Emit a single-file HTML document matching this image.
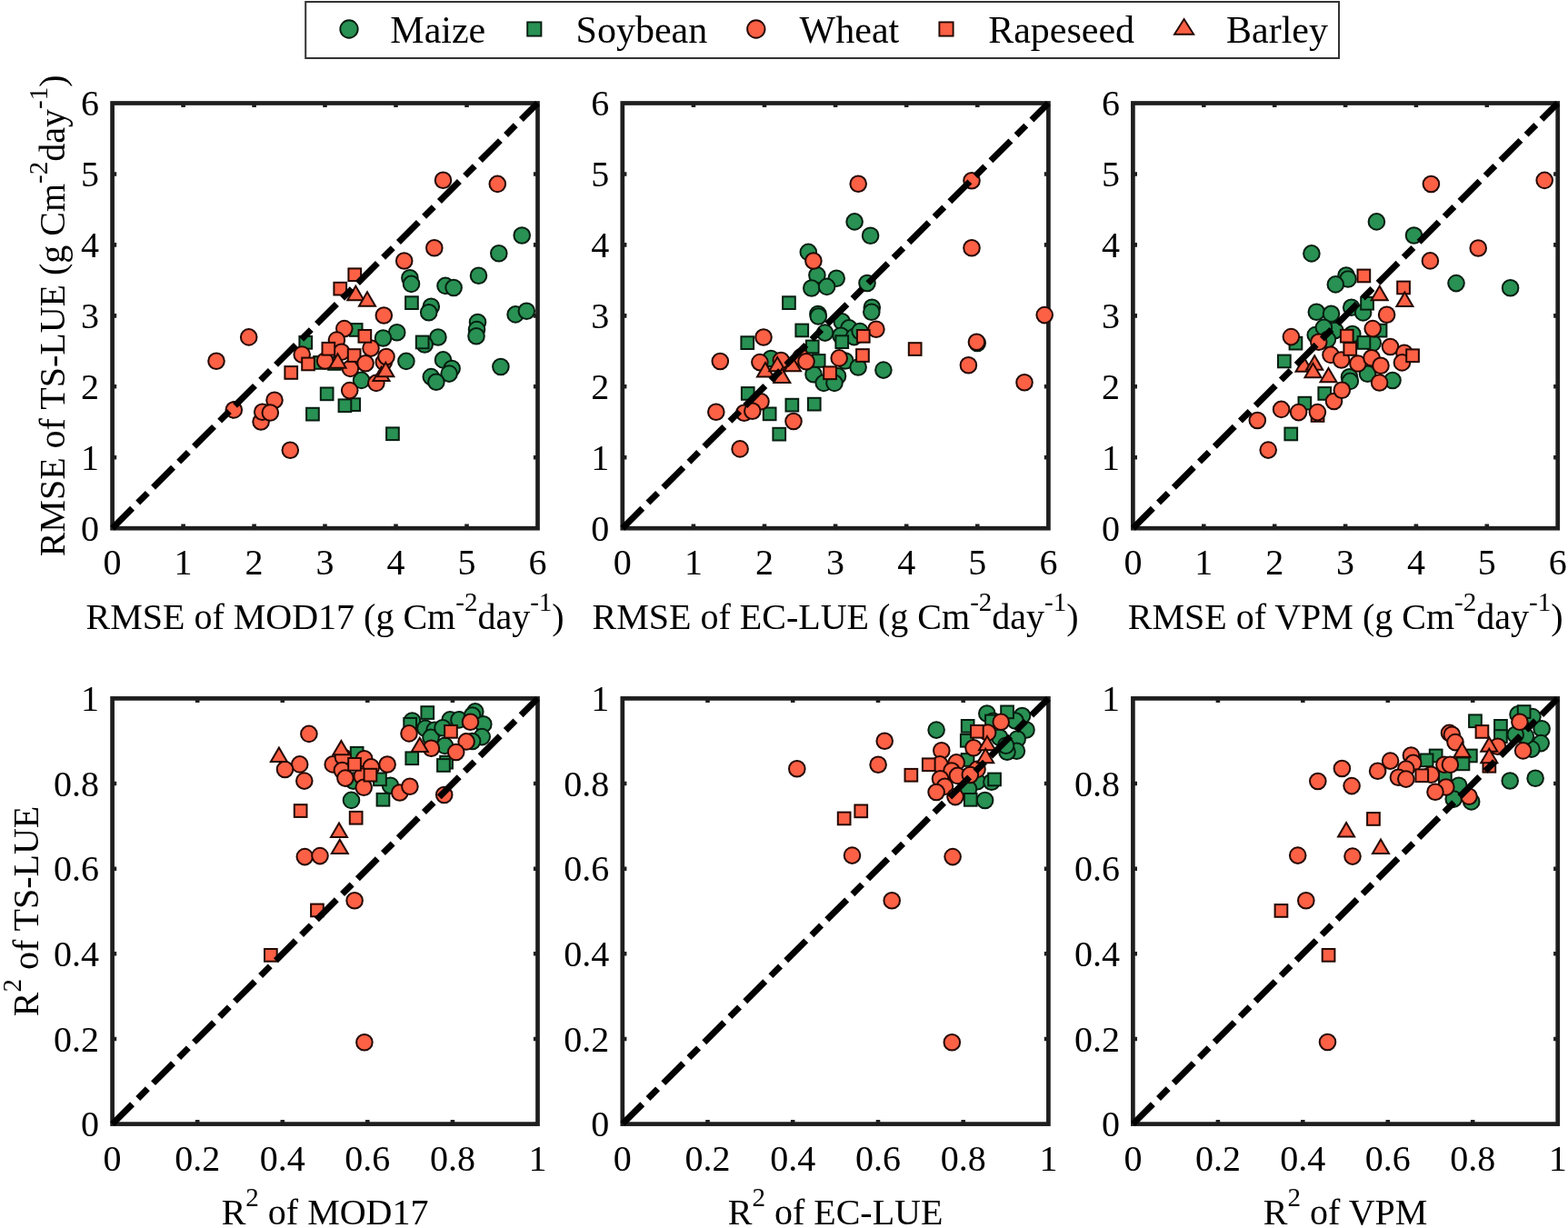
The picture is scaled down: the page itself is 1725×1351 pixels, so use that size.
<!DOCTYPE html>
<html><head><meta charset="utf-8"><title>Figure</title>
<style>html,body{margin:0;padding:0;background:#fff;width:1725px;height:1351px;overflow:hidden}svg{display:block}</style>
</head><body>
<svg width="1725" height="1351" viewBox="0 0 1725 1351" font-family="'Liberation Serif','Times New Roman',serif" font-size="40" fill="#000">
<rect width="1725" height="1351" fill="#fff"/>
<rect x="336.2" y="2" width="1136.8" height="62" fill="#fff" stroke="#333" stroke-width="2"/>
<g stroke-width="1.9">
<circle cx="384" cy="32" r="9.7" fill="#289153" stroke="#061d10"/>
<rect x="580.1999999999999" y="24.4" width="15.2" height="15.2" fill="#289153" stroke="#061d10"/>
<circle cx="831.8" cy="32" r="9.7" fill="#fc6045" stroke="#240800"/>
<rect x="1033.4" y="24.4" width="15.2" height="15.2" fill="#fc6045" stroke="#240800"/>
<path d="M1302.6 21.0L1313.1999999999998 37.8L1292.0 37.8Z" fill="#fc6045" stroke="#240800"/>
</g>
<text x="429.3" y="47.3" font-size="42">Maize</text>
<text x="633.6" y="47.3" font-size="42">Soybean</text>
<text x="879.6" y="47.3" font-size="42">Wheat</text>
<text x="1087.2" y="47.3" font-size="42">Rapeseed</text>
<text x="1349" y="47.3" font-size="42">Barley</text>
<rect x="123.6" y="113.5" width="467.9" height="467.7" fill="none" stroke="#1e1e1e" stroke-width="4.7"/>
<path d="M201.6 581.2v-4.6M201.6 113.5v4.6M123.6 503.3h4.6M591.5 503.3h-4.6M279.6 581.2v-4.6M279.6 113.5v4.6M123.6 425.3h4.6M591.5 425.3h-4.6M357.5 581.2v-4.6M357.5 113.5v4.6M123.6 347.4h4.6M591.5 347.4h-4.6M435.5 581.2v-4.6M435.5 113.5v4.6M123.6 269.4h4.6M591.5 269.4h-4.6M513.5 581.2v-4.6M513.5 113.5v4.6M123.6 191.5h4.6M591.5 191.5h-4.6" stroke="#1e1e1e" stroke-width="4.6" fill="none"/>
<g stroke="#111" stroke-width="2.0">
<circle cx="287.1" cy="464" r="8.8" fill="#fc6045" stroke="#240800"/>
<circle cx="574.2" cy="259" r="8.8" fill="#289153" stroke="#061d10"/>
<circle cx="548.8" cy="278.8" r="8.8" fill="#289153" stroke="#061d10"/>
<circle cx="526.5" cy="303.3" r="8.8" fill="#289153" stroke="#061d10"/>
<circle cx="450.9" cy="305.8" r="8.8" fill="#289153" stroke="#061d10"/>
<circle cx="452.5" cy="312.4" r="8.8" fill="#289153" stroke="#061d10"/>
<circle cx="490" cy="314.4" r="8.8" fill="#289153" stroke="#061d10"/>
<circle cx="499.1" cy="316.5" r="8.8" fill="#289153" stroke="#061d10"/>
<circle cx="474.3" cy="337.2" r="8.8" fill="#289153" stroke="#061d10"/>
<circle cx="471.7" cy="343.8" r="8.8" fill="#289153" stroke="#061d10"/>
<circle cx="567.1" cy="345.9" r="8.8" fill="#289153" stroke="#061d10"/>
<circle cx="579.3" cy="342.3" r="8.8" fill="#289153" stroke="#061d10"/>
<circle cx="525.5" cy="354.5" r="8.8" fill="#289153" stroke="#061d10"/>
<circle cx="524.5" cy="362.6" r="8.8" fill="#289153" stroke="#061d10"/>
<circle cx="524" cy="369.7" r="8.8" fill="#289153" stroke="#061d10"/>
<circle cx="436.7" cy="365.7" r="8.8" fill="#289153" stroke="#061d10"/>
<circle cx="421.5" cy="372" r="8.8" fill="#289153" stroke="#061d10"/>
<circle cx="481.9" cy="371" r="8.8" fill="#289153" stroke="#061d10"/>
<circle cx="467.2" cy="379" r="8.8" fill="#289153" stroke="#061d10"/>
<circle cx="446.9" cy="397.4" r="8.8" fill="#289153" stroke="#061d10"/>
<circle cx="487.5" cy="395.9" r="8.8" fill="#289153" stroke="#061d10"/>
<circle cx="497.1" cy="405.5" r="8.8" fill="#289153" stroke="#061d10"/>
<circle cx="494.1" cy="411.1" r="8.8" fill="#289153" stroke="#061d10"/>
<circle cx="474.3" cy="414.6" r="8.8" fill="#289153" stroke="#061d10"/>
<circle cx="479.9" cy="420.2" r="8.8" fill="#289153" stroke="#061d10"/>
<circle cx="550.9" cy="403.5" r="8.8" fill="#289153" stroke="#061d10"/>
<circle cx="397.6" cy="418.4" r="8.8" fill="#289153" stroke="#061d10"/>
<rect x="329.4" y="370" width="13.7" height="13.7" fill="#289153" stroke="#061d10"/>
<rect x="384.8" y="356.1" width="13.7" height="13.7" fill="#289153" stroke="#061d10"/>
<rect x="352.8" y="426.5" width="13.7" height="13.7" fill="#289153" stroke="#061d10"/>
<rect x="337.1" y="448.8" width="13.7" height="13.7" fill="#289153" stroke="#061d10"/>
<rect x="382.3" y="438.3" width="13.7" height="13.7" fill="#289153" stroke="#061d10"/>
<rect x="372.6" y="439.4" width="13.7" height="13.7" fill="#289153" stroke="#061d10"/>
<rect x="425.1" y="470.4" width="13.7" height="13.7" fill="#289153" stroke="#061d10"/>
<rect x="446.1" y="326.3" width="13.7" height="13.7" fill="#289153" stroke="#061d10"/>
<rect x="457.8" y="369.6" width="13.7" height="13.7" fill="#289153" stroke="#061d10"/>
<rect x="345.1" y="392.1" width="13.7" height="13.7" fill="#289153" stroke="#061d10"/>
<rect x="361.1" y="393.1" width="13.7" height="13.7" fill="#289153" stroke="#061d10"/>
<circle cx="238" cy="397.3" r="8.8" fill="#fc6045" stroke="#240800"/>
<circle cx="273.7" cy="370.9" r="8.8" fill="#fc6045" stroke="#240800"/>
<circle cx="257.3" cy="450.9" r="8.8" fill="#fc6045" stroke="#240800"/>
<circle cx="302" cy="440.3" r="8.8" fill="#fc6045" stroke="#240800"/>
<circle cx="288.7" cy="453.3" r="8.8" fill="#fc6045" stroke="#240800"/>
<circle cx="297.3" cy="454" r="8.8" fill="#fc6045" stroke="#240800"/>
<circle cx="319.3" cy="495.3" r="8.8" fill="#fc6045" stroke="#240800"/>
<circle cx="332.2" cy="390.1" r="8.8" fill="#fc6045" stroke="#240800"/>
<circle cx="378.8" cy="361.6" r="8.8" fill="#fc6045" stroke="#240800"/>
<circle cx="370.4" cy="374.1" r="8.8" fill="#fc6045" stroke="#240800"/>
<circle cx="375.7" cy="387.3" r="8.8" fill="#fc6045" stroke="#240800"/>
<circle cx="357.6" cy="397" r="8.8" fill="#fc6045" stroke="#240800"/>
<circle cx="385.4" cy="405.4" r="8.8" fill="#fc6045" stroke="#240800"/>
<circle cx="408" cy="383.1" r="8.8" fill="#fc6045" stroke="#240800"/>
<circle cx="422.3" cy="347" r="8.8" fill="#fc6045" stroke="#240800"/>
<circle cx="422.3" cy="398.4" r="8.8" fill="#fc6045" stroke="#240800"/>
<circle cx="425" cy="392.5" r="8.8" fill="#fc6045" stroke="#240800"/>
<circle cx="413.9" cy="421.4" r="8.8" fill="#fc6045" stroke="#240800"/>
<circle cx="384.7" cy="429.6" r="8.8" fill="#fc6045" stroke="#240800"/>
<circle cx="444.7" cy="287" r="8.8" fill="#fc6045" stroke="#240800"/>
<circle cx="477.8" cy="272.7" r="8.8" fill="#fc6045" stroke="#240800"/>
<circle cx="487.5" cy="198.3" r="8.8" fill="#fc6045" stroke="#240800"/>
<circle cx="547.3" cy="202.4" r="8.8" fill="#fc6045" stroke="#240800"/>
<rect x="313.4" y="403.1" width="13.7" height="13.7" fill="#fc6045" stroke="#240800"/>
<rect x="332.2" y="393.6" width="13.7" height="13.7" fill="#fc6045" stroke="#240800"/>
<rect x="394.5" y="363" width="13.7" height="13.7" fill="#fc6045" stroke="#240800"/>
<rect x="354.5" y="376.9" width="13.7" height="13.7" fill="#fc6045" stroke="#240800"/>
<rect x="383.4" y="295.4" width="13.7" height="13.7" fill="#fc6045" stroke="#240800"/>
<rect x="367.4" y="310.8" width="13.7" height="13.7" fill="#fc6045" stroke="#240800"/>
<rect x="382.8" y="384.2" width="13.7" height="13.7" fill="#fc6045" stroke="#240800"/>
<path d="M371.5 389.3L380.5 404.7L362.5 404.7Z" fill="#fc6045" stroke="#240800"/>
<path d="M419.5 403.7L428.5 419.1L410.5 419.1Z" fill="#fc6045" stroke="#240800"/>
<path d="M424.3 398.8L433.3 414.2L415.3 414.2Z" fill="#fc6045" stroke="#240800"/>
<path d="M391.3 314.8L400.3 330.2L382.3 330.2Z" fill="#fc6045" stroke="#240800"/>
<path d="M404 321.3L413 336.7L395 336.7Z" fill="#fc6045" stroke="#240800"/>
<circle cx="402.1" cy="399.8" r="8.8" fill="#fc6045" stroke="#240800"/>
</g>
<line x1="123.6" y1="581.2" x2="591.5" y2="113.5" stroke="#000" stroke-width="7" stroke-dasharray="31 8.8 15 8.8"/>
<text x="123.6" y="632.4" text-anchor="middle">0</text>
<text x="109.1" y="594.7" text-anchor="end">0</text>
<text x="201.6" y="632.4" text-anchor="middle">1</text>
<text x="109.1" y="516.8" text-anchor="end">1</text>
<text x="279.6" y="632.4" text-anchor="middle">2</text>
<text x="109.1" y="438.8" text-anchor="end">2</text>
<text x="357.5" y="632.4" text-anchor="middle">3</text>
<text x="109.1" y="360.9" text-anchor="end">3</text>
<text x="435.5" y="632.4" text-anchor="middle">4</text>
<text x="109.1" y="282.9" text-anchor="end">4</text>
<text x="513.5" y="632.4" text-anchor="middle">5</text>
<text x="109.1" y="205" text-anchor="end">5</text>
<text x="591.5" y="632.4" text-anchor="middle">6</text>
<text x="109.1" y="127" text-anchor="end">6</text>
<rect x="684.8" y="113.5" width="468.6" height="467.7" fill="none" stroke="#1e1e1e" stroke-width="4.7"/>
<path d="M762.9 581.2v-4.6M762.9 113.5v4.6M684.8 503.3h4.6M1153.4 503.3h-4.6M841 581.2v-4.6M841 113.5v4.6M684.8 425.3h4.6M1153.4 425.3h-4.6M919.1 581.2v-4.6M919.1 113.5v4.6M684.8 347.4h4.6M1153.4 347.4h-4.6M997.2 581.2v-4.6M997.2 113.5v4.6M684.8 269.4h4.6M1153.4 269.4h-4.6M1075.3 581.2v-4.6M1075.3 113.5v4.6M684.8 191.5h4.6M1153.4 191.5h-4.6" stroke="#1e1e1e" stroke-width="4.6" fill="none"/>
<g stroke="#111" stroke-width="2.0">
<circle cx="848.1" cy="394.5" r="8.8" fill="#289153" stroke="#061d10"/>
<circle cx="899.9" cy="345.5" r="8.8" fill="#289153" stroke="#061d10"/>
<circle cx="900.3" cy="348" r="8.8" fill="#289153" stroke="#061d10"/>
<circle cx="907.6" cy="366.1" r="8.8" fill="#289153" stroke="#061d10"/>
<circle cx="926.3" cy="353.9" r="8.8" fill="#289153" stroke="#061d10"/>
<circle cx="934" cy="360.9" r="8.8" fill="#289153" stroke="#061d10"/>
<circle cx="925" cy="369.2" r="8.8" fill="#289153" stroke="#061d10"/>
<circle cx="939.6" cy="370.6" r="8.8" fill="#289153" stroke="#061d10"/>
<circle cx="946.1" cy="364.6" r="8.8" fill="#289153" stroke="#061d10"/>
<circle cx="929.8" cy="397" r="8.8" fill="#289153" stroke="#061d10"/>
<circle cx="944.1" cy="404" r="8.8" fill="#289153" stroke="#061d10"/>
<circle cx="971.9" cy="407.1" r="8.8" fill="#289153" stroke="#061d10"/>
<circle cx="895" cy="411.7" r="8.8" fill="#289153" stroke="#061d10"/>
<circle cx="921.5" cy="413.7" r="8.8" fill="#289153" stroke="#061d10"/>
<circle cx="906.2" cy="421.4" r="8.8" fill="#289153" stroke="#061d10"/>
<circle cx="918" cy="421.4" r="8.8" fill="#289153" stroke="#061d10"/>
<circle cx="959.3" cy="338.3" r="8.8" fill="#289153" stroke="#061d10"/>
<circle cx="958.8" cy="343.3" r="8.8" fill="#289153" stroke="#061d10"/>
<circle cx="889.3" cy="277.4" r="8.8" fill="#289153" stroke="#061d10"/>
<circle cx="898.9" cy="302.8" r="8.8" fill="#289153" stroke="#061d10"/>
<circle cx="920.2" cy="306.3" r="8.8" fill="#289153" stroke="#061d10"/>
<circle cx="892.8" cy="317" r="8.8" fill="#289153" stroke="#061d10"/>
<circle cx="909.6" cy="315.4" r="8.8" fill="#289153" stroke="#061d10"/>
<circle cx="954" cy="311.5" r="8.8" fill="#289153" stroke="#061d10"/>
<circle cx="957.6" cy="259.3" r="8.8" fill="#289153" stroke="#061d10"/>
<circle cx="940.1" cy="243.9" r="8.8" fill="#289153" stroke="#061d10"/>
<circle cx="1075.2" cy="377.5" r="8.8" fill="#289153" stroke="#061d10"/>
<rect x="815.4" y="370.3" width="13.7" height="13.7" fill="#289153" stroke="#061d10"/>
<rect x="875.4" y="356.6" width="13.7" height="13.7" fill="#289153" stroke="#061d10"/>
<rect x="886.9" y="374.6" width="13.7" height="13.7" fill="#289153" stroke="#061d10"/>
<rect x="893.8" y="390.1" width="13.7" height="13.7" fill="#289153" stroke="#061d10"/>
<rect x="919.4" y="369.3" width="13.7" height="13.7" fill="#289153" stroke="#061d10"/>
<rect x="815.9" y="426.1" width="13.7" height="13.7" fill="#289153" stroke="#061d10"/>
<rect x="839.8" y="448.5" width="13.7" height="13.7" fill="#289153" stroke="#061d10"/>
<rect x="864.5" y="438.8" width="13.7" height="13.7" fill="#289153" stroke="#061d10"/>
<rect x="888.9" y="437.8" width="13.7" height="13.7" fill="#289153" stroke="#061d10"/>
<rect x="850.4" y="470.8" width="13.7" height="13.7" fill="#289153" stroke="#061d10"/>
<rect x="861.1" y="326.3" width="13.7" height="13.7" fill="#289153" stroke="#061d10"/>
<circle cx="792.3" cy="397.5" r="8.8" fill="#fc6045" stroke="#240800"/>
<circle cx="840" cy="371" r="8.8" fill="#fc6045" stroke="#240800"/>
<circle cx="835.9" cy="398.6" r="8.8" fill="#fc6045" stroke="#240800"/>
<circle cx="859.3" cy="396.5" r="8.8" fill="#fc6045" stroke="#240800"/>
<circle cx="881.1" cy="392.9" r="8.8" fill="#fc6045" stroke="#240800"/>
<circle cx="887" cy="397.7" r="8.8" fill="#fc6045" stroke="#240800"/>
<circle cx="837" cy="441.7" r="8.8" fill="#fc6045" stroke="#240800"/>
<circle cx="818.7" cy="454.3" r="8.8" fill="#fc6045" stroke="#240800"/>
<circle cx="827.8" cy="452.3" r="8.8" fill="#fc6045" stroke="#240800"/>
<circle cx="787.8" cy="453.3" r="8.8" fill="#fc6045" stroke="#240800"/>
<circle cx="873" cy="463.5" r="8.8" fill="#fc6045" stroke="#240800"/>
<circle cx="814.1" cy="493.9" r="8.8" fill="#fc6045" stroke="#240800"/>
<circle cx="923.2" cy="393.9" r="8.8" fill="#fc6045" stroke="#240800"/>
<circle cx="894.9" cy="287" r="8.8" fill="#fc6045" stroke="#240800"/>
<circle cx="944.2" cy="202.3" r="8.8" fill="#fc6045" stroke="#240800"/>
<circle cx="1069" cy="198.8" r="8.8" fill="#fc6045" stroke="#240800"/>
<circle cx="1069" cy="272.8" r="8.8" fill="#fc6045" stroke="#240800"/>
<circle cx="963.9" cy="362.3" r="8.8" fill="#fc6045" stroke="#240800"/>
<circle cx="1074.4" cy="376.2" r="8.8" fill="#fc6045" stroke="#240800"/>
<circle cx="1065.4" cy="401.8" r="8.8" fill="#fc6045" stroke="#240800"/>
<circle cx="1149.2" cy="346.6" r="8.8" fill="#fc6045" stroke="#240800"/>
<circle cx="1127" cy="420.7" r="8.8" fill="#fc6045" stroke="#240800"/>
<rect x="942.9" y="363" width="13.7" height="13.7" fill="#fc6045" stroke="#240800"/>
<rect x="942.1" y="384.2" width="13.7" height="13.7" fill="#fc6045" stroke="#240800"/>
<rect x="906.2" y="403.4" width="13.7" height="13.7" fill="#fc6045" stroke="#240800"/>
<rect x="999.8" y="377.2" width="13.7" height="13.7" fill="#fc6045" stroke="#240800"/>
<path d="M842 399L851 414.4L833 414.4Z" fill="#fc6045" stroke="#240800"/>
<path d="M855.2 392.9L864.2 408.3L846.2 408.3Z" fill="#fc6045" stroke="#240800"/>
<path d="M860.3 405.6L869.3 421L851.3 421Z" fill="#fc6045" stroke="#240800"/>
<path d="M872 392.9L881 408.3L863 408.3Z" fill="#fc6045" stroke="#240800"/>
</g>
<line x1="684.8" y1="581.2" x2="1153.4" y2="113.5" stroke="#000" stroke-width="7" stroke-dasharray="31 8.8 15 8.8"/>
<text x="684.8" y="632.4" text-anchor="middle">0</text>
<text x="670.3" y="594.7" text-anchor="end">0</text>
<text x="762.9" y="632.4" text-anchor="middle">1</text>
<text x="670.3" y="516.8" text-anchor="end">1</text>
<text x="841" y="632.4" text-anchor="middle">2</text>
<text x="670.3" y="438.8" text-anchor="end">2</text>
<text x="919.1" y="632.4" text-anchor="middle">3</text>
<text x="670.3" y="360.9" text-anchor="end">3</text>
<text x="997.2" y="632.4" text-anchor="middle">4</text>
<text x="670.3" y="282.9" text-anchor="end">4</text>
<text x="1075.3" y="632.4" text-anchor="middle">5</text>
<text x="670.3" y="205" text-anchor="end">5</text>
<text x="1153.4" y="632.4" text-anchor="middle">6</text>
<text x="670.3" y="127" text-anchor="end">6</text>
<rect x="1246.4" y="113.5" width="467.3" height="467.7" fill="none" stroke="#1e1e1e" stroke-width="4.7"/>
<path d="M1324.3 581.2v-4.6M1324.3 113.5v4.6M1246.4 503.3h4.6M1713.7 503.3h-4.6M1402.2 581.2v-4.6M1402.2 113.5v4.6M1246.4 425.3h4.6M1713.7 425.3h-4.6M1480.1 581.2v-4.6M1480.1 113.5v4.6M1246.4 347.4h4.6M1713.7 347.4h-4.6M1557.9 581.2v-4.6M1557.9 113.5v4.6M1246.4 269.4h4.6M1713.7 269.4h-4.6M1635.8 581.2v-4.6M1635.8 113.5v4.6M1246.4 191.5h4.6M1713.7 191.5h-4.6" stroke="#1e1e1e" stroke-width="4.6" fill="none"/>
<g stroke="#111" stroke-width="2.0">
<rect x="1442.7" y="450.1" width="13.7" height="13.7" fill="#fc6045" stroke="#240800"/>
<circle cx="1448.3" cy="343.2" r="8.8" fill="#289153" stroke="#061d10"/>
<circle cx="1464.5" cy="345.2" r="8.8" fill="#289153" stroke="#061d10"/>
<circle cx="1447.2" cy="368.6" r="8.8" fill="#289153" stroke="#061d10"/>
<circle cx="1468.6" cy="363.5" r="8.8" fill="#289153" stroke="#061d10"/>
<circle cx="1456.4" cy="360.4" r="8.8" fill="#289153" stroke="#061d10"/>
<circle cx="1460.4" cy="373.6" r="8.8" fill="#289153" stroke="#061d10"/>
<circle cx="1486.7" cy="338.3" r="8.8" fill="#289153" stroke="#061d10"/>
<circle cx="1499.6" cy="343.9" r="8.8" fill="#289153" stroke="#061d10"/>
<circle cx="1481" cy="303" r="8.8" fill="#289153" stroke="#061d10"/>
<circle cx="1483" cy="307" r="8.8" fill="#289153" stroke="#061d10"/>
<circle cx="1469.3" cy="312.9" r="8.8" fill="#289153" stroke="#061d10"/>
<circle cx="1487.8" cy="367.5" r="8.8" fill="#289153" stroke="#061d10"/>
<circle cx="1510.2" cy="377.4" r="8.8" fill="#289153" stroke="#061d10"/>
<circle cx="1504.5" cy="411.2" r="8.8" fill="#289153" stroke="#061d10"/>
<circle cx="1484.5" cy="414.7" r="8.8" fill="#289153" stroke="#061d10"/>
<circle cx="1485.3" cy="419.4" r="8.8" fill="#289153" stroke="#061d10"/>
<circle cx="1532" cy="418.5" r="8.8" fill="#289153" stroke="#061d10"/>
<circle cx="1442.9" cy="278.9" r="8.8" fill="#289153" stroke="#061d10"/>
<circle cx="1514.4" cy="243.9" r="8.8" fill="#289153" stroke="#061d10"/>
<circle cx="1555.5" cy="259" r="8.8" fill="#289153" stroke="#061d10"/>
<circle cx="1602" cy="311.6" r="8.8" fill="#289153" stroke="#061d10"/>
<circle cx="1661.6" cy="316.8" r="8.8" fill="#289153" stroke="#061d10"/>
<rect x="1418.6" y="370.8" width="13.7" height="13.7" fill="#289153" stroke="#061d10"/>
<rect x="1406" y="390.6" width="13.7" height="13.7" fill="#289153" stroke="#061d10"/>
<rect x="1428.5" y="436.8" width="13.7" height="13.7" fill="#289153" stroke="#061d10"/>
<rect x="1450.4" y="426.1" width="13.7" height="13.7" fill="#289153" stroke="#061d10"/>
<rect x="1413.4" y="470.6" width="13.7" height="13.7" fill="#289153" stroke="#061d10"/>
<rect x="1497.2" y="326.9" width="13.7" height="13.7" fill="#289153" stroke="#061d10"/>
<rect x="1511.7" y="356.8" width="13.7" height="13.7" fill="#289153" stroke="#061d10"/>
<rect x="1493.6" y="370.1" width="13.7" height="13.7" fill="#289153" stroke="#061d10"/>
<circle cx="1420.4" cy="370.6" r="8.8" fill="#fc6045" stroke="#240800"/>
<circle cx="1383.3" cy="462.5" r="8.8" fill="#fc6045" stroke="#240800"/>
<circle cx="1409.6" cy="450.4" r="8.8" fill="#fc6045" stroke="#240800"/>
<circle cx="1428.6" cy="453.6" r="8.8" fill="#fc6045" stroke="#240800"/>
<circle cx="1449.4" cy="453.6" r="8.8" fill="#fc6045" stroke="#240800"/>
<circle cx="1467.5" cy="441.5" r="8.8" fill="#fc6045" stroke="#240800"/>
<circle cx="1476.3" cy="429.3" r="8.8" fill="#fc6045" stroke="#240800"/>
<circle cx="1464" cy="390.4" r="8.8" fill="#fc6045" stroke="#240800"/>
<circle cx="1475.7" cy="396" r="8.8" fill="#fc6045" stroke="#240800"/>
<circle cx="1450.8" cy="376.2" r="8.8" fill="#fc6045" stroke="#240800"/>
<circle cx="1525.6" cy="346.2" r="8.8" fill="#fc6045" stroke="#240800"/>
<circle cx="1510.2" cy="361.6" r="8.8" fill="#fc6045" stroke="#240800"/>
<circle cx="1529.5" cy="381.5" r="8.8" fill="#fc6045" stroke="#240800"/>
<circle cx="1493.9" cy="400" r="8.8" fill="#fc6045" stroke="#240800"/>
<circle cx="1509" cy="393.8" r="8.8" fill="#fc6045" stroke="#240800"/>
<circle cx="1519" cy="402.2" r="8.8" fill="#fc6045" stroke="#240800"/>
<circle cx="1517.6" cy="421" r="8.8" fill="#fc6045" stroke="#240800"/>
<circle cx="1544.9" cy="388.3" r="8.8" fill="#fc6045" stroke="#240800"/>
<circle cx="1542.4" cy="398.9" r="8.8" fill="#fc6045" stroke="#240800"/>
<circle cx="1395.2" cy="495.1" r="8.8" fill="#fc6045" stroke="#240800"/>
<circle cx="1574.4" cy="202.5" r="8.8" fill="#fc6045" stroke="#240800"/>
<circle cx="1699.2" cy="198.4" r="8.8" fill="#fc6045" stroke="#240800"/>
<circle cx="1626.2" cy="273" r="8.8" fill="#fc6045" stroke="#240800"/>
<circle cx="1573.4" cy="286.9" r="8.8" fill="#fc6045" stroke="#240800"/>
<rect x="1474.9" y="362.8" width="13.7" height="13.7" fill="#fc6045" stroke="#240800"/>
<rect x="1478.4" y="377.1" width="13.7" height="13.7" fill="#fc6045" stroke="#240800"/>
<rect x="1493.5" y="296.6" width="13.7" height="13.7" fill="#fc6045" stroke="#240800"/>
<rect x="1537.2" y="309.6" width="13.7" height="13.7" fill="#fc6045" stroke="#240800"/>
<rect x="1547.2" y="384.4" width="13.7" height="13.7" fill="#fc6045" stroke="#240800"/>
<path d="M1434.6 393.3L1443.6 408.7L1425.6 408.7Z" fill="#fc6045" stroke="#240800"/>
<path d="M1446.2 391.3L1455.2 406.7L1437.2 406.7Z" fill="#fc6045" stroke="#240800"/>
<path d="M1444.5 399.8L1453.5 415.2L1435.5 415.2Z" fill="#fc6045" stroke="#240800"/>
<path d="M1461.5 404.9L1470.5 420.3L1452.5 420.3Z" fill="#fc6045" stroke="#240800"/>
<path d="M1517.7 314.8L1526.7 330.2L1508.7 330.2Z" fill="#fc6045" stroke="#240800"/>
<path d="M1545.4 321.5L1554.4 336.9L1536.4 336.9Z" fill="#fc6045" stroke="#240800"/>
</g>
<line x1="1246.4" y1="581.2" x2="1713.7" y2="113.5" stroke="#000" stroke-width="7" stroke-dasharray="31 8.8 15 8.8"/>
<text x="1246.4" y="632.4" text-anchor="middle">0</text>
<text x="1231.9" y="594.7" text-anchor="end">0</text>
<text x="1324.3" y="632.4" text-anchor="middle">1</text>
<text x="1231.9" y="516.8" text-anchor="end">1</text>
<text x="1402.2" y="632.4" text-anchor="middle">2</text>
<text x="1231.9" y="438.8" text-anchor="end">2</text>
<text x="1480.1" y="632.4" text-anchor="middle">3</text>
<text x="1231.9" y="360.9" text-anchor="end">3</text>
<text x="1557.9" y="632.4" text-anchor="middle">4</text>
<text x="1231.9" y="282.9" text-anchor="end">4</text>
<text x="1635.8" y="632.4" text-anchor="middle">5</text>
<text x="1231.9" y="205" text-anchor="end">5</text>
<text x="1713.7" y="632.4" text-anchor="middle">6</text>
<text x="1231.9" y="127" text-anchor="end">6</text>
<rect x="123.6" y="768.4" width="467.9" height="468.2" fill="none" stroke="#1e1e1e" stroke-width="4.7"/>
<path d="M217.2 1236.6v-4.6M217.2 768.4v4.6M123.6 1143h4.6M591.5 1143h-4.6M310.8 1236.6v-4.6M310.8 768.4v4.6M123.6 1049.3h4.6M591.5 1049.3h-4.6M404.3 1236.6v-4.6M404.3 768.4v4.6M123.6 955.7h4.6M591.5 955.7h-4.6M497.9 1236.6v-4.6M497.9 768.4v4.6M123.6 862h4.6M591.5 862h-4.6" stroke="#1e1e1e" stroke-width="4.6" fill="none"/>
<g stroke="#111" stroke-width="2.0">
<circle cx="388.6" cy="859.1" r="8.8" fill="#289153" stroke="#061d10"/>
<circle cx="429.5" cy="864.2" r="8.8" fill="#289153" stroke="#061d10"/>
<circle cx="386.5" cy="880.4" r="8.8" fill="#289153" stroke="#061d10"/>
<circle cx="453.5" cy="793" r="8.8" fill="#289153" stroke="#061d10"/>
<circle cx="467.9" cy="801.2" r="8.8" fill="#289153" stroke="#061d10"/>
<circle cx="478" cy="803.3" r="8.8" fill="#289153" stroke="#061d10"/>
<circle cx="474" cy="811.4" r="8.8" fill="#289153" stroke="#061d10"/>
<circle cx="495.1" cy="791.9" r="8.8" fill="#289153" stroke="#061d10"/>
<circle cx="487" cy="800.8" r="8.8" fill="#289153" stroke="#061d10"/>
<circle cx="504.9" cy="791.9" r="8.8" fill="#289153" stroke="#061d10"/>
<circle cx="522.8" cy="782.9" r="8.8" fill="#289153" stroke="#061d10"/>
<circle cx="519.6" cy="787" r="8.8" fill="#289153" stroke="#061d10"/>
<circle cx="531.8" cy="796.8" r="8.8" fill="#289153" stroke="#061d10"/>
<circle cx="530.2" cy="810.6" r="8.8" fill="#289153" stroke="#061d10"/>
<circle cx="519.6" cy="815.5" r="8.8" fill="#289153" stroke="#061d10"/>
<circle cx="489.4" cy="820.4" r="8.8" fill="#289153" stroke="#061d10"/>
<rect x="385.8" y="821.9" width="13.7" height="13.7" fill="#289153" stroke="#061d10"/>
<rect x="411.1" y="850.5" width="13.7" height="13.7" fill="#289153" stroke="#061d10"/>
<rect x="414.6" y="872.9" width="13.7" height="13.7" fill="#289153" stroke="#061d10"/>
<rect x="446.4" y="827.4" width="13.7" height="13.7" fill="#289153" stroke="#061d10"/>
<rect x="463.4" y="777.2" width="13.7" height="13.7" fill="#289153" stroke="#061d10"/>
<rect x="444.3" y="789.9" width="13.7" height="13.7" fill="#289153" stroke="#061d10"/>
<rect x="484.2" y="831.8" width="13.7" height="13.7" fill="#289153" stroke="#061d10"/>
<rect x="481.1" y="835.1" width="13.7" height="13.7" fill="#289153" stroke="#061d10"/>
<circle cx="339.9" cy="807.4" r="8.8" fill="#fc6045" stroke="#240800"/>
<circle cx="329.7" cy="840.9" r="8.8" fill="#fc6045" stroke="#240800"/>
<circle cx="313.5" cy="846.5" r="8.8" fill="#fc6045" stroke="#240800"/>
<circle cx="334.8" cy="859.1" r="8.8" fill="#fc6045" stroke="#240800"/>
<circle cx="366.2" cy="840.9" r="8.8" fill="#fc6045" stroke="#240800"/>
<circle cx="377.4" cy="832.8" r="8.8" fill="#fc6045" stroke="#240800"/>
<circle cx="400.7" cy="834.8" r="8.8" fill="#fc6045" stroke="#240800"/>
<circle cx="376.4" cy="847.5" r="8.8" fill="#fc6045" stroke="#240800"/>
<circle cx="379.9" cy="856.1" r="8.8" fill="#fc6045" stroke="#240800"/>
<circle cx="408.3" cy="843.9" r="8.8" fill="#fc6045" stroke="#240800"/>
<circle cx="398.2" cy="854.1" r="8.8" fill="#fc6045" stroke="#240800"/>
<circle cx="400.2" cy="866.2" r="8.8" fill="#fc6045" stroke="#240800"/>
<circle cx="426.1" cy="841" r="8.8" fill="#fc6045" stroke="#240800"/>
<circle cx="439.8" cy="872" r="8.8" fill="#fc6045" stroke="#240800"/>
<circle cx="450.9" cy="865.3" r="8.8" fill="#fc6045" stroke="#240800"/>
<circle cx="450" cy="806.9" r="8.8" fill="#fc6045" stroke="#240800"/>
<circle cx="474.4" cy="823.2" r="8.8" fill="#fc6045" stroke="#240800"/>
<circle cx="517.5" cy="794.3" r="8.8" fill="#fc6045" stroke="#240800"/>
<circle cx="513.1" cy="815.9" r="8.8" fill="#fc6045" stroke="#240800"/>
<circle cx="501.7" cy="827.5" r="8.8" fill="#fc6045" stroke="#240800"/>
<circle cx="488.7" cy="874.5" r="8.8" fill="#fc6045" stroke="#240800"/>
<circle cx="335.3" cy="942.6" r="8.8" fill="#fc6045" stroke="#240800"/>
<circle cx="352" cy="941.6" r="8.8" fill="#fc6045" stroke="#240800"/>
<circle cx="390.1" cy="990.8" r="8.8" fill="#fc6045" stroke="#240800"/>
<circle cx="400.9" cy="1146.7" r="8.8" fill="#fc6045" stroke="#240800"/>
<rect x="323.8" y="885.2" width="13.7" height="13.7" fill="#fc6045" stroke="#240800"/>
<rect x="383.2" y="834" width="13.7" height="13.7" fill="#fc6045" stroke="#240800"/>
<rect x="400.6" y="845.8" width="13.7" height="13.7" fill="#fc6045" stroke="#240800"/>
<rect x="384.8" y="892.9" width="13.7" height="13.7" fill="#fc6045" stroke="#240800"/>
<rect x="489.1" y="798" width="13.7" height="13.7" fill="#fc6045" stroke="#240800"/>
<rect x="342.1" y="994.6" width="13.7" height="13.7" fill="#fc6045" stroke="#240800"/>
<rect x="291" y="1044" width="13.7" height="13.7" fill="#fc6045" stroke="#240800"/>
<path d="M306.9 822.5L315.9 837.9L297.9 837.9Z" fill="#fc6045" stroke="#240800"/>
<path d="M375.4 814.9L384.4 830.3L366.4 830.3Z" fill="#fc6045" stroke="#240800"/>
<path d="M461.8 811.7L470.8 827.1L452.8 827.1Z" fill="#fc6045" stroke="#240800"/>
<path d="M373 905.5L382 920.9L364 920.9Z" fill="#fc6045" stroke="#240800"/>
<path d="M373.8 923.7L382.8 939.1L364.8 939.1Z" fill="#fc6045" stroke="#240800"/>
</g>
<line x1="123.6" y1="1236.6" x2="591.5" y2="768.4" stroke="#000" stroke-width="7" stroke-dasharray="31 8.8 15 8.8"/>
<text x="123.6" y="1287.8" text-anchor="middle">0</text>
<text x="109.1" y="1250.1" text-anchor="end">0</text>
<text x="217.2" y="1287.8" text-anchor="middle">0.2</text>
<text x="109.1" y="1156.5" text-anchor="end">0.2</text>
<text x="310.8" y="1287.8" text-anchor="middle">0.4</text>
<text x="109.1" y="1062.8" text-anchor="end">0.4</text>
<text x="404.3" y="1287.8" text-anchor="middle">0.6</text>
<text x="109.1" y="969.2" text-anchor="end">0.6</text>
<text x="497.9" y="1287.8" text-anchor="middle">0.8</text>
<text x="109.1" y="875.5" text-anchor="end">0.8</text>
<text x="591.5" y="1287.8" text-anchor="middle">1</text>
<text x="109.1" y="781.9" text-anchor="end">1</text>
<rect x="684.8" y="768.4" width="468.6" height="468.2" fill="none" stroke="#1e1e1e" stroke-width="4.7"/>
<path d="M778.5 1236.6v-4.6M778.5 768.4v4.6M684.8 1143h4.6M1153.4 1143h-4.6M872.2 1236.6v-4.6M872.2 768.4v4.6M684.8 1049.3h4.6M1153.4 1049.3h-4.6M966 1236.6v-4.6M966 768.4v4.6M684.8 955.7h4.6M1153.4 955.7h-4.6M1059.7 1236.6v-4.6M1059.7 768.4v4.6M684.8 862h4.6M1153.4 862h-4.6" stroke="#1e1e1e" stroke-width="4.6" fill="none"/>
<g stroke="#111" stroke-width="2.0">
<circle cx="1030.1" cy="803.1" r="8.8" fill="#289153" stroke="#061d10"/>
<circle cx="1075" cy="859.7" r="8.8" fill="#289153" stroke="#061d10"/>
<circle cx="1065.5" cy="867.9" r="8.8" fill="#289153" stroke="#061d10"/>
<circle cx="1083.6" cy="880.5" r="8.8" fill="#289153" stroke="#061d10"/>
<circle cx="1090.9" cy="860.3" r="8.8" fill="#289153" stroke="#061d10"/>
<circle cx="1085.8" cy="785" r="8.8" fill="#289153" stroke="#061d10"/>
<circle cx="1124.5" cy="787.5" r="8.8" fill="#289153" stroke="#061d10"/>
<circle cx="1117" cy="793" r="8.8" fill="#289153" stroke="#061d10"/>
<circle cx="1129" cy="803" r="8.8" fill="#289153" stroke="#061d10"/>
<circle cx="1119.2" cy="813" r="8.8" fill="#289153" stroke="#061d10"/>
<circle cx="1118.4" cy="826.3" r="8.8" fill="#289153" stroke="#061d10"/>
<circle cx="1108" cy="827.2" r="8.8" fill="#289153" stroke="#061d10"/>
<circle cx="1099.7" cy="811.2" r="8.8" fill="#289153" stroke="#061d10"/>
<circle cx="1106.6" cy="820.3" r="8.8" fill="#289153" stroke="#061d10"/>
<circle cx="1092.6" cy="793.3" r="8.8" fill="#289153" stroke="#061d10"/>
<rect x="1057.8" y="792" width="13.7" height="13.7" fill="#289153" stroke="#061d10"/>
<rect x="1056.9" y="807.9" width="13.7" height="13.7" fill="#289153" stroke="#061d10"/>
<rect x="1057.7" y="829.1" width="13.7" height="13.7" fill="#289153" stroke="#061d10"/>
<rect x="1060.9" y="873" width="13.7" height="13.7" fill="#289153" stroke="#061d10"/>
<rect x="1087.2" y="850.6" width="13.7" height="13.7" fill="#289153" stroke="#061d10"/>
<rect x="1101.2" y="776.5" width="13.7" height="13.7" fill="#289153" stroke="#061d10"/>
<rect x="1084.1" y="786.6" width="13.7" height="13.7" fill="#289153" stroke="#061d10"/>
<circle cx="876.8" cy="845.7" r="8.8" fill="#fc6045" stroke="#240800"/>
<circle cx="973.2" cy="815.3" r="8.8" fill="#fc6045" stroke="#240800"/>
<circle cx="966.1" cy="841.2" r="8.8" fill="#fc6045" stroke="#240800"/>
<circle cx="937.5" cy="941.1" r="8.8" fill="#fc6045" stroke="#240800"/>
<circle cx="1048.1" cy="942.6" r="8.8" fill="#fc6045" stroke="#240800"/>
<circle cx="981.2" cy="990.8" r="8.8" fill="#fc6045" stroke="#240800"/>
<circle cx="1047.3" cy="1146.7" r="8.8" fill="#fc6045" stroke="#240800"/>
<circle cx="1035.8" cy="825.8" r="8.8" fill="#fc6045" stroke="#240800"/>
<circle cx="1033.9" cy="840.9" r="8.8" fill="#fc6045" stroke="#240800"/>
<circle cx="1052.2" cy="838.9" r="8.8" fill="#fc6045" stroke="#240800"/>
<circle cx="1047" cy="848" r="8.8" fill="#fc6045" stroke="#240800"/>
<circle cx="1053.4" cy="853.4" r="8.8" fill="#fc6045" stroke="#240800"/>
<circle cx="1034.5" cy="856.7" r="8.8" fill="#fc6045" stroke="#240800"/>
<circle cx="1039.5" cy="865.2" r="8.8" fill="#fc6045" stroke="#240800"/>
<circle cx="1030.1" cy="871.5" r="8.8" fill="#fc6045" stroke="#240800"/>
<circle cx="1051" cy="876.6" r="8.8" fill="#fc6045" stroke="#240800"/>
<circle cx="1075" cy="846.4" r="8.8" fill="#fc6045" stroke="#240800"/>
<circle cx="1067.3" cy="852.5" r="8.8" fill="#fc6045" stroke="#240800"/>
<circle cx="1071" cy="822.7" r="8.8" fill="#fc6045" stroke="#240800"/>
<circle cx="1086.6" cy="806" r="8.8" fill="#fc6045" stroke="#240800"/>
<circle cx="1101.2" cy="794.2" r="8.8" fill="#fc6045" stroke="#240800"/>
<rect x="1014.9" y="834.4" width="13.7" height="13.7" fill="#fc6045" stroke="#240800"/>
<rect x="995.5" y="845.9" width="13.7" height="13.7" fill="#fc6045" stroke="#240800"/>
<rect x="940.4" y="885.5" width="13.7" height="13.7" fill="#fc6045" stroke="#240800"/>
<rect x="921.8" y="893.6" width="13.7" height="13.7" fill="#fc6045" stroke="#240800"/>
<rect x="1068" y="797.9" width="13.7" height="13.7" fill="#fc6045" stroke="#240800"/>
<path d="M1086 809.9L1095 825.3L1077 825.3Z" fill="#fc6045" stroke="#240800"/>
<path d="M1084.2 823.8L1093.2 839.2L1075.2 839.2Z" fill="#fc6045" stroke="#240800"/>
</g>
<line x1="684.8" y1="1236.6" x2="1153.4" y2="768.4" stroke="#000" stroke-width="7" stroke-dasharray="31 8.8 15 8.8"/>
<text x="684.8" y="1287.8" text-anchor="middle">0</text>
<text x="670.3" y="1250.1" text-anchor="end">0</text>
<text x="778.5" y="1287.8" text-anchor="middle">0.2</text>
<text x="670.3" y="1156.5" text-anchor="end">0.2</text>
<text x="872.2" y="1287.8" text-anchor="middle">0.4</text>
<text x="670.3" y="1062.8" text-anchor="end">0.4</text>
<text x="966" y="1287.8" text-anchor="middle">0.6</text>
<text x="670.3" y="969.2" text-anchor="end">0.6</text>
<text x="1059.7" y="1287.8" text-anchor="middle">0.8</text>
<text x="670.3" y="875.5" text-anchor="end">0.8</text>
<text x="1153.4" y="1287.8" text-anchor="middle">1</text>
<text x="670.3" y="781.9" text-anchor="end">1</text>
<rect x="1246.4" y="768.4" width="467.3" height="468.2" fill="none" stroke="#1e1e1e" stroke-width="4.7"/>
<path d="M1339.9 1236.6v-4.6M1339.9 768.4v4.6M1246.4 1143h4.6M1713.7 1143h-4.6M1433.3 1236.6v-4.6M1433.3 768.4v4.6M1246.4 1049.3h4.6M1713.7 1049.3h-4.6M1526.8 1236.6v-4.6M1526.8 768.4v4.6M1246.4 955.7h4.6M1713.7 955.7h-4.6M1620.2 1236.6v-4.6M1620.2 768.4v4.6M1246.4 862h4.6M1713.7 862h-4.6" stroke="#1e1e1e" stroke-width="4.6" fill="none"/>
<g stroke="#111" stroke-width="2.0">
<circle cx="1604.8" cy="864.2" r="8.8" fill="#289153" stroke="#061d10"/>
<circle cx="1599.2" cy="879.1" r="8.8" fill="#289153" stroke="#061d10"/>
<circle cx="1618.7" cy="881.9" r="8.8" fill="#289153" stroke="#061d10"/>
<circle cx="1670" cy="785.9" r="8.8" fill="#289153" stroke="#061d10"/>
<circle cx="1685.9" cy="788.6" r="8.8" fill="#289153" stroke="#061d10"/>
<circle cx="1696.1" cy="801.7" r="8.8" fill="#289153" stroke="#061d10"/>
<circle cx="1695.2" cy="817.6" r="8.8" fill="#289153" stroke="#061d10"/>
<circle cx="1684.9" cy="824.1" r="8.8" fill="#289153" stroke="#061d10"/>
<circle cx="1678.4" cy="810.1" r="8.8" fill="#289153" stroke="#061d10"/>
<circle cx="1667.2" cy="808.2" r="8.8" fill="#289153" stroke="#061d10"/>
<circle cx="1661.2" cy="859" r="8.8" fill="#289153" stroke="#061d10"/>
<circle cx="1689.1" cy="856.2" r="8.8" fill="#289153" stroke="#061d10"/>
<rect x="1616.1" y="786.4" width="13.7" height="13.7" fill="#289153" stroke="#061d10"/>
<rect x="1611" y="824.6" width="13.7" height="13.7" fill="#289153" stroke="#061d10"/>
<rect x="1602.6" y="833.5" width="13.7" height="13.7" fill="#289153" stroke="#061d10"/>
<rect x="1572.8" y="824.6" width="13.7" height="13.7" fill="#289153" stroke="#061d10"/>
<rect x="1562.7" y="829.5" width="13.7" height="13.7" fill="#289153" stroke="#061d10"/>
<rect x="1583" y="847" width="13.7" height="13.7" fill="#289153" stroke="#061d10"/>
<rect x="1644.1" y="792" width="13.7" height="13.7" fill="#289153" stroke="#061d10"/>
<rect x="1644.1" y="803.2" width="13.7" height="13.7" fill="#289153" stroke="#061d10"/>
<rect x="1669.8" y="776.2" width="13.7" height="13.7" fill="#289153" stroke="#061d10"/>
<circle cx="1594.5" cy="806.4" r="8.8" fill="#fc6045" stroke="#240800"/>
<circle cx="1597.3" cy="808.2" r="8.8" fill="#fc6045" stroke="#240800"/>
<circle cx="1601" cy="816.6" r="8.8" fill="#fc6045" stroke="#240800"/>
<circle cx="1588.9" cy="841.3" r="8.8" fill="#fc6045" stroke="#240800"/>
<circle cx="1595.4" cy="841.3" r="8.8" fill="#fc6045" stroke="#240800"/>
<circle cx="1574.4" cy="852.2" r="8.8" fill="#fc6045" stroke="#240800"/>
<circle cx="1590.8" cy="866" r="8.8" fill="#fc6045" stroke="#240800"/>
<circle cx="1579" cy="871.3" r="8.8" fill="#fc6045" stroke="#240800"/>
<circle cx="1616" cy="876.3" r="8.8" fill="#fc6045" stroke="#240800"/>
<circle cx="1647.6" cy="821.3" r="8.8" fill="#fc6045" stroke="#240800"/>
<circle cx="1671.9" cy="794.2" r="8.8" fill="#fc6045" stroke="#240800"/>
<circle cx="1675.6" cy="825.9" r="8.8" fill="#fc6045" stroke="#240800"/>
<circle cx="1449.8" cy="859.5" r="8.8" fill="#fc6045" stroke="#240800"/>
<circle cx="1476.4" cy="845.5" r="8.8" fill="#fc6045" stroke="#240800"/>
<circle cx="1487.1" cy="864.6" r="8.8" fill="#fc6045" stroke="#240800"/>
<circle cx="1515.6" cy="848.3" r="8.8" fill="#fc6045" stroke="#240800"/>
<circle cx="1529.6" cy="837.1" r="8.8" fill="#fc6045" stroke="#240800"/>
<circle cx="1552.4" cy="831" r="8.8" fill="#fc6045" stroke="#240800"/>
<circle cx="1554.7" cy="839.4" r="8.8" fill="#fc6045" stroke="#240800"/>
<circle cx="1546.8" cy="846" r="8.8" fill="#fc6045" stroke="#240800"/>
<circle cx="1538.4" cy="855.3" r="8.8" fill="#fc6045" stroke="#240800"/>
<circle cx="1546.8" cy="857.1" r="8.8" fill="#fc6045" stroke="#240800"/>
<circle cx="1427.7" cy="941.1" r="8.8" fill="#fc6045" stroke="#240800"/>
<circle cx="1488" cy="942.1" r="8.8" fill="#fc6045" stroke="#240800"/>
<circle cx="1436.8" cy="990.8" r="8.8" fill="#fc6045" stroke="#240800"/>
<circle cx="1460.5" cy="1146.5" r="8.8" fill="#fc6045" stroke="#240800"/>
<rect x="1623.6" y="798.1" width="13.7" height="13.7" fill="#fc6045" stroke="#240800"/>
<rect x="1557.4" y="846.4" width="13.7" height="13.7" fill="#fc6045" stroke="#240800"/>
<rect x="1631.5" y="835.9" width="13.7" height="13.7" fill="#fc6045" stroke="#240800"/>
<rect x="1504.1" y="894.1" width="13.7" height="13.7" fill="#fc6045" stroke="#240800"/>
<rect x="1402.6" y="995.1" width="13.7" height="13.7" fill="#fc6045" stroke="#240800"/>
<rect x="1454.7" y="1044" width="13.7" height="13.7" fill="#fc6045" stroke="#240800"/>
<path d="M1608.5 817.3L1617.5 832.7L1599.5 832.7Z" fill="#fc6045" stroke="#240800"/>
<path d="M1638.3 811.3L1647.3 826.7L1629.3 826.7Z" fill="#fc6045" stroke="#240800"/>
<path d="M1638.3 823.8L1647.3 839.2L1629.3 839.2Z" fill="#fc6045" stroke="#240800"/>
<path d="M1481.1 905.1L1490.1 920.5L1472.1 920.5Z" fill="#fc6045" stroke="#240800"/>
<path d="M1519 923.5L1528 938.9L1510 938.9Z" fill="#fc6045" stroke="#240800"/>
</g>
<line x1="1246.4" y1="1236.6" x2="1713.7" y2="768.4" stroke="#000" stroke-width="7" stroke-dasharray="31 8.8 15 8.8"/>
<text x="1246.4" y="1287.8" text-anchor="middle">0</text>
<text x="1231.9" y="1250.1" text-anchor="end">0</text>
<text x="1339.9" y="1287.8" text-anchor="middle">0.2</text>
<text x="1231.9" y="1156.5" text-anchor="end">0.2</text>
<text x="1433.3" y="1287.8" text-anchor="middle">0.4</text>
<text x="1231.9" y="1062.8" text-anchor="end">0.4</text>
<text x="1526.8" y="1287.8" text-anchor="middle">0.6</text>
<text x="1231.9" y="969.2" text-anchor="end">0.6</text>
<text x="1620.2" y="1287.8" text-anchor="middle">0.8</text>
<text x="1231.9" y="875.5" text-anchor="end">0.8</text>
<text x="1713.7" y="1287.8" text-anchor="middle">1</text>
<text x="1231.9" y="781.9" text-anchor="end">1</text>
<text x="357.6" y="691.9" text-anchor="middle">RMSE of MOD17 (g Cm<tspan font-size="29" dy="-19.5">-2</tspan><tspan dy="19.5">day</tspan><tspan font-size="29" dy="-19.5">-1</tspan><tspan dy="19.5">)</tspan></text>
<text x="357.6" y="1346.7" text-anchor="middle">R<tspan font-size="29" dy="-19.5">2</tspan><tspan dy="19.5"> of MOD17</tspan></text>
<text x="919.1" y="691.9" text-anchor="middle">RMSE of EC-LUE (g Cm<tspan font-size="29" dy="-19.5">-2</tspan><tspan dy="19.5">day</tspan><tspan font-size="29" dy="-19.5">-1</tspan><tspan dy="19.5">)</tspan></text>
<text x="919.1" y="1346.7" text-anchor="middle">R<tspan font-size="29" dy="-19.5">2</tspan><tspan dy="19.5"> of EC-LUE</tspan></text>
<text x="1480.1" y="691.9" text-anchor="middle">RMSE of VPM (g Cm<tspan font-size="29" dy="-19.5">-2</tspan><tspan dy="19.5">day</tspan><tspan font-size="29" dy="-19.5">-1</tspan><tspan dy="19.5">)</tspan></text>
<text x="1480.1" y="1346.7" text-anchor="middle">R<tspan font-size="29" dy="-19.5">2</tspan><tspan dy="19.5"> of VPM</tspan></text>
<text transform="translate(71.4 347.4) rotate(-90)" text-anchor="middle">RMSE of TS-LUE (g Cm<tspan font-size="29" dy="-19.5">-2</tspan><tspan dy="19.5">day</tspan><tspan font-size="29" dy="-19.5">-1</tspan><tspan dy="19.5">)</tspan></text>
<text transform="translate(42 1002.5) rotate(-90)" text-anchor="middle">R<tspan font-size="29" dy="-19.5">2</tspan><tspan dy="19.5"> of TS-LUE</tspan></text>
</svg>
</body></html>
